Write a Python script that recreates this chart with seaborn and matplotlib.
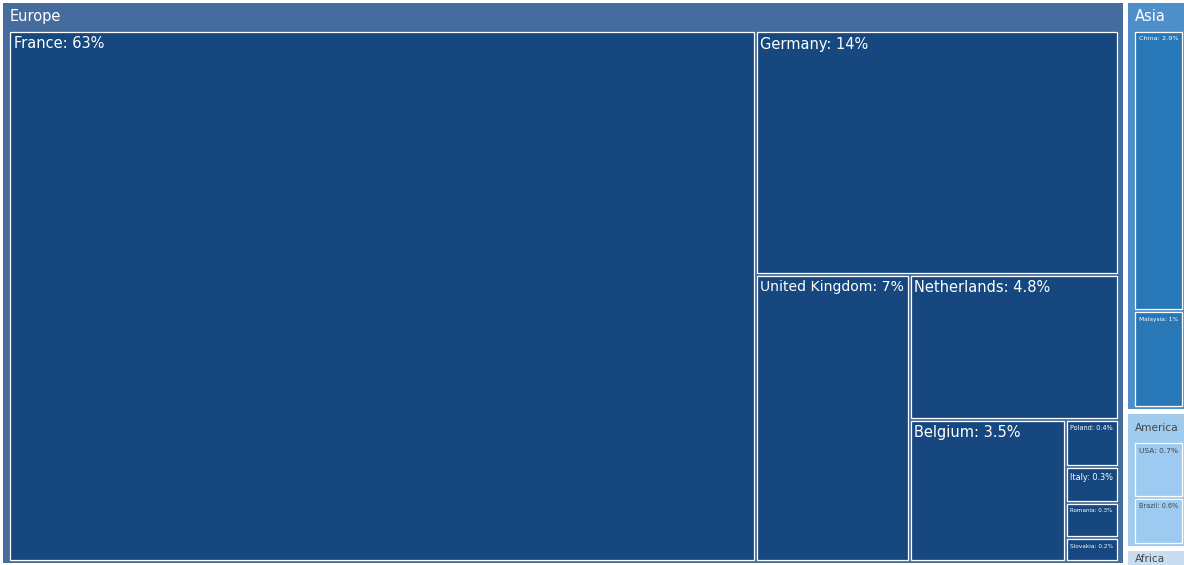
import matplotlib
matplotlib.use("Agg")
import matplotlib.pyplot as plt
from matplotlib.patches import Rectangle
import seaborn as sns

# data (share of total, in %), labels show 2 significant digits
regions = ["Europe", "Asia", "America", "Africa"]
countries = ["France", "Germany", "United Kingdom", "Netherlands", "Belgium",
             "Poland", "Italy", "Romania", "Slovakia",
             "China", "Malaysia", "USA", "Brazil"]
country_region = ["Europe"] * 9 + ["Asia"] * 2 + ["America"] * 2
shares = [62.6, 14, 7, 4.8, 3.5, 0.4, 0.3, 0.3, 0.2, 2.9, 1, 0.7, 0.6]
africa_share = 0.16  # its countries are too small to show

region_fill = {"Europe": "#456c9d", "Asia": "#4f8fc9", "America": "#a0caee", "Africa": "#c9ddf1"}
leaf_fill = {"Europe": "#16487f", "Asia": "#2878b8", "America": "#9ccaf0"}
text_col = {"Europe": "white", "Asia": "white", "America": "#444444", "Africa": "#444444"}

W, H = 1184, 565
BASE = 10.5


def squarify(values, x0, y0, x1, y1):
    # d3 style squarified tiling, values sorted descending
    rects = []
    total = float(sum(values))
    i0, n = 0, len(values)
    while i0 < n:
        dx, dy = x1 - x0, y1 - y0
        s = values[i0]
        i1 = i0 + 1
        mn = mx = s
        alpha = max(dy / dx, dx / dy) / total
        beta = s * s * alpha
        best = max(mx / beta, beta / mn)
        while i1 < n:
            v = values[i1]
            s2 = s + v
            mn2, mx2 = min(mn, v), max(mx, v)
            beta = s2 * s2 * alpha
            r = max(mx2 / beta, beta / mn2)
            if r > best:
                break
            s, mn, mx, best = s2, mn2, mx2, r
            i1 += 1
        row = values[i0:i1]
        if dx < dy:
            yb = y0 + dy * s / total
            cx = x0
            for v in row:
                w = dx * v / s
                rects.append((cx, y0, cx + w, yb))
                cx += w
            y0 = yb
        else:
            xb = x0 + dx * s / total
            cy = y0
            for v in row:
                h = dy * v / s
                rects.append((x0, cy, xb, cy + h))
                cy += h
            x0 = xb
        total -= s
        i0 = i1
    return rects


def fit_text(t, renderer, max_w, max_h=None, base=BASE):
    bb = t.get_window_extent(renderer)
    scale = 1.0
    if bb.width > max_w:
        scale = max_w / bb.width
    if max_h is not None and bb.height > max_h:
        scale = min(scale, max_h / bb.height)
    t.set_fontsize(base * scale)


sns.set_style("white")
plt.rcParams["font.family"] = ["DejaVu Sans"]

fig = plt.figure(figsize=(W / 100, H / 100), dpi=100)
ax = fig.add_axes([0, 0, 1, 1])
ax.set_xlim(0, W)
ax.set_ylim(H, 0)
ax.axis("off")
renderer = fig.canvas.get_renderer()

region_vals = []
for r in regions:
    v = sum(s for s, cr in zip(shares, country_region) if cr == r)
    region_vals.append(v if r != "Africa" else africa_share)

gap_top, gap_leaf = 2.5, 1.5
for reg, (x0, y0, x1, y1) in zip(regions, squarify(region_vals, 0.5, 0.5, 1190.5, 565.5)):
    x0, y0, x1, y1 = x0 + gap_top, y0 + gap_top, x1 - gap_top, y1 - gap_top
    if reg == "Africa":
        y1 = H + 5
    ax.add_patch(Rectangle((x0, y0), x1 - x0, y1 - y0, facecolor=region_fill[reg], edgecolor="none"))
    hh = min(y1, H) - y0
    t = ax.text(x0 + 6.5, y0 + min(13.5, hh / 2 + 0.5), reg, color=text_col[reg], fontsize=BASE,
                ha="left", va="center")
    fit_text(t, renderer, min(x1, W) - x0 - 12, hh - 3)

    names = [c for c, cr in zip(countries, country_region) if cr == reg]
    vals = [s for s, cr in zip(shares, country_region) if cr == reg]
    if not names:
        continue
    cx0, cy0, cx1, cy1 = x0 + 5.5, y0 + 27.5, x1 - 4.5, y1 - 1.5
    for name, v, (a0, b0, a1, b1) in zip(names, vals, squarify(vals, cx0, cy0, cx1, cy1)):
        a0, b0, a1, b1 = a0 + gap_leaf, b0 + gap_leaf, a1 - gap_leaf, b1 - gap_leaf
        ax.add_patch(Rectangle((a0, b0), a1 - a0, b1 - b0, facecolor=leaf_fill[reg],
                               edgecolor="white", linewidth=0.9))
        t = ax.text(a0 + 3.5, b0 + 4.5, f"{name}: {v:.2g}%", color=text_col[reg], fontsize=BASE,
                    ha="left", va="top")
        fit_text(t, renderer, min(a1, W) - a0 - 7.5)

fig.savefig("out.png", dpi=100)
